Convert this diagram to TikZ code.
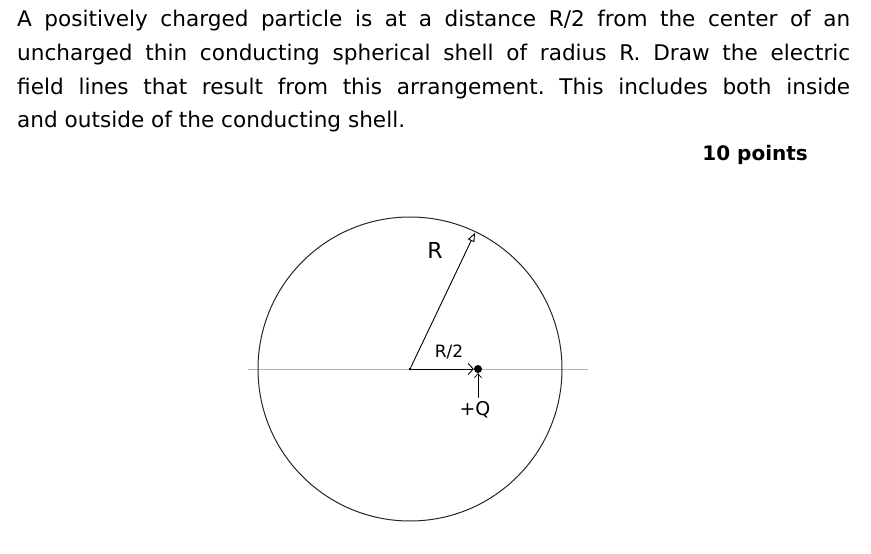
\documentclass[tikz,border=0pt]{standalone}
\usepackage{fontspec}
\setmainfont{DejaVu Sans}
\usetikzlibrary{calc, positioning, arrows.meta}
\tikzset{
  shell/.style = {line width=1pt, draw=black!85},
  axisline/.style = {line width=0.5pt, draw=black!30},
  vector/.style = {line width=0.9pt, -{#1}, line cap=round},
  point/.style = {circle, fill=black, inner sep=0pt, minimum size=#1},
  handlabel/.style = {font=\fontsize{#1}{#1}\selectfont, inner sep=0pt},
}

\begin{document}
\begin{tikzpicture}[x=1pt, y=-1pt]
  \useasboundingbox (0,0) rectangle (871,554);
  \node[anchor=north west, inner sep=0pt, text width=833pt, align=justify, font=\fontsize{21.6}{33.7}\selectfont\frenchspacing] (question) at (17,10)
    {A positively charged particle is at a distance R/2 from the center of an\linebreak
     uncharged thin conducting spherical shell of radius R. Draw the electric\linebreak
     field lines that result from this arrangement. This includes both inside\linebreak
     and outside of the conducting shell.};
  \node[anchor=base east, inner sep=0pt, font=\fontsize{20}{25}\selectfont\bfseries] (points) at (808,160) {10 points};
  % shell
  \coordinate (O) at (410,369);
  \coordinate (axisL) at ($(O)+(-162,0)$);
  \coordinate (axisR) at ($(O)+(178,0)$);
  \coordinate (rim) at ($(O)+(-64.5:151)$);
  \draw[axisline] (axisL) -- (axisR);
  \draw[shell] (O) circle[radius=152];
  \node[point=3pt] (center) at (O) {};
  \node[point=8pt] (Q) at (478,369) {};
  \draw[vector={Triangle[open, length=9pt, width=7pt]}] (center) -- (rim);
  \draw[vector={Straight Barb[length=5pt, width=11pt]}] (center) -- (Q.west);
  \node[handlabel=22] (Rlabel) at (435,250) {R};
  \node[handlabel=17] (halflabel) at (449,352) {R/2};
  \node[handlabel=19] (Qlabel) at (475,410) {+Q};
  \draw[vector={Straight Barb[length=4pt, width=7pt]}, line width=0.7pt] (Qlabel.north -| Q) ++(0,-4) coordinate (tail) (tail) -- (Q.south);
\end{tikzpicture}
\end{document}
